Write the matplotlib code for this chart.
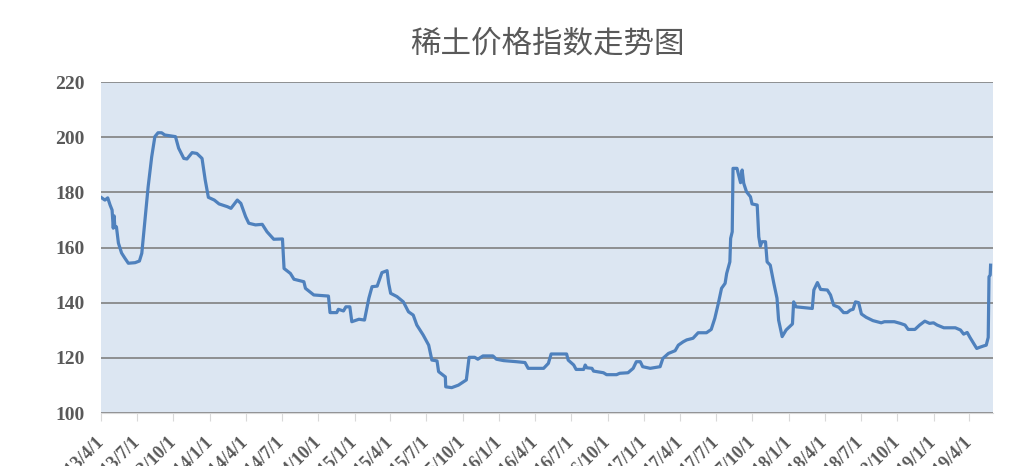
import pandas as pd
import matplotlib
matplotlib.use("Agg")
import matplotlib.pyplot as plt

# Data

dates = [
    "2013-04-01", "2013-04-11", "2013-04-18", "2013-04-24", "2013-04-29",
    "2013-05-02", "2013-05-04", "2013-05-06", "2013-05-10", "2013-05-15",
    "2013-05-23", "2013-05-31", "2013-06-09", "2013-06-26", "2013-07-07",
    "2013-07-13", "2013-07-21", "2013-07-29", "2013-08-07", "2013-08-15",
    "2013-08-23", "2013-09-01", "2013-09-09", "2013-10-06", "2013-10-14",
    "2013-10-27", "2013-11-04", "2013-11-17", "2013-11-29", "2013-12-12",
    "2013-12-20", "2013-12-28", "2014-01-12", "2014-01-24", "2014-02-14",
    "2014-02-23", "2014-03-11", "2014-03-20", "2014-04-01", "2014-04-09",
    "2014-04-26", "2014-05-13", "2014-05-25", "2014-06-11", "2014-07-03",
    "2014-07-07", "2014-07-23", "2014-08-01", "2014-08-26", "2014-08-30",
    "2014-09-20", "2014-10-27", "2014-10-31", "2014-11-17", "2014-11-21",
    "2014-12-04", "2014-12-10", "2014-12-20", "2014-12-25", "2015-01-12",
    "2015-01-26", "2015-02-06", "2015-02-14", "2015-02-27", "2015-03-11",
    "2015-03-24", "2015-03-28", "2015-04-02", "2015-04-18", "2015-05-04",
    "2015-05-17", "2015-05-29", "2015-06-07", "2015-06-23", "2015-07-07",
    "2015-07-15", "2015-07-28", "2015-08-01", "2015-08-18", "2015-08-19",
    "2015-09-03", "2015-09-20", "2015-10-10", "2015-10-17", "2015-10-31",
    "2015-11-08", "2015-11-21", "2015-12-16", "2015-12-25", "2016-01-12",
    "2016-02-14", "2016-03-06", "2016-03-14", "2016-04-22", "2016-05-04",
    "2016-05-11", "2016-06-19", "2016-06-23", "2016-07-07", "2016-07-13",
    "2016-08-01", "2016-08-05", "2016-08-09", "2016-08-22", "2016-08-26",
    "2016-09-20", "2016-09-28", "2016-10-23", "2016-10-31", "2016-11-21",
    "2016-12-04", "2016-12-12", "2016-12-22", "2016-12-28", "2017-01-16",
    "2017-02-10", "2017-02-17", "2017-03-03", "2017-03-20", "2017-03-28",
    "2017-04-09", "2017-04-18", "2017-05-04", "2017-05-17", "2017-06-07",
    "2017-06-19", "2017-06-28", "2017-07-07", "2017-07-15", "2017-07-24",
    "2017-07-28", "2017-08-05", "2017-08-07", "2017-08-11", "2017-08-13",
    "2017-08-23", "2017-09-01", "2017-09-05", "2017-09-09", "2017-09-16",
    "2017-09-26", "2017-09-30", "2017-10-13", "2017-10-17", "2017-10-21",
    "2017-10-25", "2017-11-03", "2017-11-07", "2017-11-15", "2017-11-24",
    "2017-12-02", "2017-12-06", "2017-12-15", "2017-12-25", "2018-01-10",
    "2018-01-13", "2018-01-19", "2018-03-01", "2018-03-05", "2018-03-14",
    "2018-03-22", "2018-04-08", "2018-04-16", "2018-04-24", "2018-05-07",
    "2018-05-19", "2018-05-28", "2018-06-05", "2018-06-12", "2018-06-18",
    "2018-06-26", "2018-07-03", "2018-07-15", "2018-08-01", "2018-08-22",
    "2018-08-30", "2018-09-24", "2018-10-09", "2018-10-21", "2018-10-29",
    "2018-11-15", "2018-11-27", "2018-12-10", "2018-12-22", "2019-01-01",
    "2019-01-10", "2019-01-27", "2019-02-25", "2019-03-10", "2019-03-18",
    "2019-03-27", "2019-04-03", "2019-04-12", "2019-04-20", "2019-04-27",
    "2019-05-07", "2019-05-14", "2019-05-19", "2019-05-21", "2019-05-24",
    "2019-05-25",
]

index_values = [
    178.2, 177.2, 178.0, 175.4, 173.6,
    167.0, 171.5, 167.5, 167.5, 161.6,
    158.0, 156.2, 154.3, 154.5, 155.1,
    157.9, 170.0, 182.0, 192.9, 200.2,
    201.6, 201.6, 200.8, 200.2, 196.0,
    192.3, 192.1, 194.4, 194.1, 192.3,
    184.5, 178.2, 177.2, 175.8, 174.8,
    174.2, 177.2, 176.0, 171.2, 168.8,
    168.2, 168.4, 165.7, 163.0, 163.1,
    152.4, 150.6, 148.5, 147.6, 145.2,
    142.8, 142.4, 136.4, 136.4, 137.6,
    137.0, 138.5, 138.5, 133.1, 134.0,
    133.7, 141.6, 145.8, 146.0, 150.9,
    151.6, 147.0, 143.4, 142.2, 140.3,
    136.7, 135.5, 131.9, 128.3, 124.6,
    119.2, 118.9, 115.0, 113.1, 109.5,
    109.2, 110.1, 112.0, 120.2, 120.2,
    119.5, 120.7, 120.7, 119.5, 119.0,
    118.6, 118.3, 116.2, 116.2, 118.0,
    121.4, 121.4, 119.2, 117.4, 115.8,
    115.8, 117.4, 116.4, 116.2, 115.2,
    114.6, 113.9, 113.9, 114.4, 114.6,
    116.2, 118.6, 118.6, 116.8, 116.2,
    116.8, 119.8, 121.6, 122.6, 124.6,
    125.8, 126.5, 127.1, 129.1, 129.1,
    130.3, 134.3, 139.8, 145.2, 147.0,
    150.6, 154.8, 163.3, 165.7, 188.7,
    188.7, 183.5, 188.1, 183.3, 180.2,
    178.4, 175.8, 175.4, 163.9, 160.5,
    162.1, 162.1, 154.8, 153.6, 147.0,
    141.6, 133.7, 127.7, 130.1, 132.3,
    140.3, 138.5, 137.9, 144.6, 147.3,
    144.8, 144.6, 142.8, 139.1, 138.3,
    136.4, 136.4, 137.3, 137.6, 140.3,
    140.0, 135.9, 134.7, 133.5, 132.7,
    133.1, 133.1, 132.5, 131.9, 130.3,
    130.3, 131.9, 133.3, 132.5, 132.7,
    131.9, 130.9, 130.9, 130.1, 128.6,
    129.2, 127.4, 125.3, 123.4, 123.8,
    124.3, 124.6, 127.4, 149.4, 150.0,
    153.6,
]

tick_dates = pd.date_range("2013-04-01", "2019-04-01", freq="QS-JAN")
tick_labels = [f"{d.year}/{d.month}/{d.day}" for d in tick_dates]

df = pd.DataFrame({"date": pd.to_datetime(dates), "value": index_values})

# Plot

fig = plt.figure(figsize=(10.2, 4.66), dpi=100)
ax = fig.add_axes([0.099, 0.1137, 0.8745, 0.7103])
ax.set_facecolor("#dce6f2")

ax.plot(df["date"], df["value"], color="#4f81bd", linewidth=2.3)

ax.set_ylim(100, 220)
ax.set_yticks(range(100, 221, 20))
ax.set_xlim(pd.Timestamp("2013-04-01"), pd.Timestamp("2019-05-31"))
ax.set_xticks(tick_dates)
ax.set_xticklabels(tick_labels, rotation=45, ha="right", va="center",
                   rotation_mode="anchor")

ax.grid(axis="y", color="#808080", linewidth=1.2)
ax.set_axisbelow(True)
for side in ["left", "right", "top"]:
    ax.spines[side].set_visible(False)
ax.spines["bottom"].set_color("#d9d9d9")

ax.tick_params(axis="y", length=0, pad=12, labelsize=14, labelcolor="#595959")
ax.tick_params(axis="x", length=6, color="#d9d9d9", pad=13, labelsize=13,
               labelcolor="#595959")
for lab in ax.get_yticklabels() + ax.get_xticklabels():
    lab.set_fontfamily("Liberation Serif")
    lab.set_fontweight("bold")

fig.text(0.537, 0.905, "稀土价格指数走势图", ha="center", va="center",
         fontsize=22, color="#595959", family=["Noto Sans CJK SC", "DejaVu Sans"])

fig.savefig("out.png", dpi=100)
